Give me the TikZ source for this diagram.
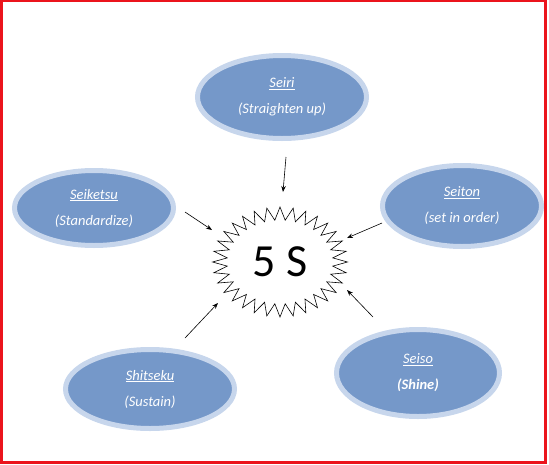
\documentclass[tikz,border=0pt]{standalone}
\usepackage{fontspec}
\setmainfont{Carlito}
\usetikzlibrary{shapes.geometric,arrows.meta}

\definecolor{ovalfill}{RGB}{117,152,201}
\definecolor{ovalring}{RGB}{199,214,236}
\definecolor{framered}{RGB}{235,20,28}

\begin{document}
\begin{tikzpicture}[x=1pt,y=-1pt,
  oval/.style={ellipse,draw=ovalring,fill=ovalfill,line width=5pt,inner sep=0pt,
    text=white,align=center,font=\fontsize{14.5}{26}\selectfont\itshape},
  pointer/.style={-{Stealth[length=6pt,width=4.5pt]},line width=0.6pt},
  burst/.style={draw=black,line width=0.6pt,fill=white}]

\useasboundingbox (0,0) rectangle (549,464);
\draw[framered,line width=2.6pt] (1.3,1) rectangle (545.4,462.6);

\node[oval,minimum width=169pt,minimum height=83pt] (seiri) at (282,97) {\underline{Seiri}\\(Straighten up)};
\node[oval,minimum width=159pt,minimum height=75pt] (seiketsu) at (94,208) {\underline{Seiketsu}\\(Standardize)};
\node[oval,minimum width=159pt,minimum height=81pt] (seiton) at (462,206) {\underline{Seiton}\\(set in order)};
\node[oval,minimum width=169pt,minimum height=79pt] (shitseku) at (150,389) {\underline{Shitseku}\\(Sustain)};
\node[oval,minimum width=163pt,minimum height=87pt] (seiso) at (418,373) {\underline{Seiso}\\\textbf{(Shine)}};

%star with 32 points
\draw[burst] plot[samples at={0,...,63}] ({280+(isodd(\x)?53:67.5)*cos(\x*5.625)},{262+(isodd(\x)?42:55)*sin(\x*5.625)}) -- cycle;
\node[font=\fontsize{46}{46}\selectfont] (fives) at (280,262) {5 S};

\coordinate (a1) at (286,157); \coordinate (b1) at (283,192);
\coordinate (a2) at (185,212); \coordinate (b2) at (212,230);
\coordinate (a3) at (382,223); \coordinate (b3) at (347,238);
\coordinate (a4) at (373,317); \coordinate (b4) at (347,290);
\coordinate (a5) at (185,338); \coordinate (b5) at (218,303);

\foreach \From/\To in {a1/b1, a2/b2, a3/b3, a4/b4, a5/b5}{
    \draw[pointer] (\From) -- (\To);
}

\end{tikzpicture}
\end{document}
